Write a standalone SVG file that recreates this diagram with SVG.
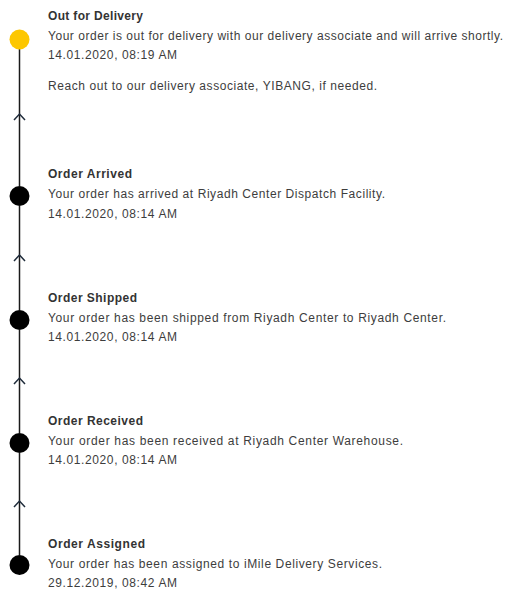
<svg xmlns="http://www.w3.org/2000/svg" width="518" height="601" viewBox="0 0 518 601">
<style>
text{font-family:"Liberation Sans",Arial,sans-serif;font-size:12px;fill:#3d3d3d;}
.t{font-weight:bold;fill:#333;}
.seg{stroke:#1a1a1a;stroke-width:1.5;fill:none;}
.chev{stroke:#1e2b3a;stroke-width:1.5;fill:none;}
.dot{fill:#000;}
</style>
<rect width="518" height="601" fill="#fff"/>
<g id="connectors">
<line class="seg" x1="19.5" y1="49" x2="19.5" y2="186"/>
<polyline class="chev" points="14,120 19.5,114 25,120"/>
<line class="seg" x1="19.5" y1="206" x2="19.5" y2="310"/>
<polyline class="chev" points="14,261 19.5,255 25,261"/>
<line class="seg" x1="19.5" y1="330" x2="19.5" y2="433"/>
<polyline class="chev" points="14,384 19.5,378 25,384"/>
<line class="seg" x1="19.5" y1="453" x2="19.5" y2="555"/>
<polyline class="chev" points="14,507 19.5,501 25,507"/>
</g>
<g id="out-for-delivery">
<circle cx="19.5" cy="39.5" r="10" fill="#fdc700"/>
<text class="t" x="48" y="20" textLength="95" lengthAdjust="spacing">Out for Delivery</text>
<text x="48" y="39.5" textLength="455" lengthAdjust="spacing">Your order is out for delivery with our delivery associate and will arrive shortly.</text>
<text x="48" y="59" textLength="129" lengthAdjust="spacing">14.01.2020, 08:19 AM</text>
<text x="48" y="90" textLength="329" lengthAdjust="spacing">Reach out to our delivery associate, YIBANG, if needed.</text>
</g>
<g id="order-arrived">
<circle class="dot" cx="19.5" cy="196" r="10"/>
<text class="t" x="48" y="178" textLength="84" lengthAdjust="spacing">Order Arrived</text>
<text x="48" y="198" textLength="337" lengthAdjust="spacing">Your order has arrived at Riyadh Center Dispatch Facility.</text>
<text x="48" y="218" textLength="129" lengthAdjust="spacing">14.01.2020, 08:14 AM</text>
</g>
<g id="order-shipped">
<circle class="dot" cx="19.5" cy="320" r="10"/>
<text class="t" x="48" y="302" textLength="89" lengthAdjust="spacing">Order Shipped</text>
<text x="48" y="322" textLength="398" lengthAdjust="spacing">Your order has been shipped from Riyadh Center to Riyadh Center.</text>
<text x="48" y="341" textLength="129" lengthAdjust="spacing">14.01.2020, 08:14 AM</text>
</g>
<g id="order-received">
<circle class="dot" cx="19.5" cy="443" r="10"/>
<text class="t" x="48" y="424.5" textLength="95" lengthAdjust="spacing">Order Received</text>
<text x="48" y="445" textLength="355" lengthAdjust="spacing">Your order has been received at Riyadh Center Warehouse.</text>
<text x="48" y="464" textLength="129" lengthAdjust="spacing">14.01.2020, 08:14 AM</text>
</g>
<g id="order-assigned">
<circle class="dot" cx="19.5" cy="565" r="10"/>
<text class="t" x="48" y="548" textLength="97" lengthAdjust="spacing">Order Assigned</text>
<text x="48" y="568" textLength="334" lengthAdjust="spacing">Your order has been assigned to iMile Delivery Services.</text>
<text x="48" y="587" textLength="129" lengthAdjust="spacing">29.12.2019, 08:42 AM</text>
</g>
</svg>
